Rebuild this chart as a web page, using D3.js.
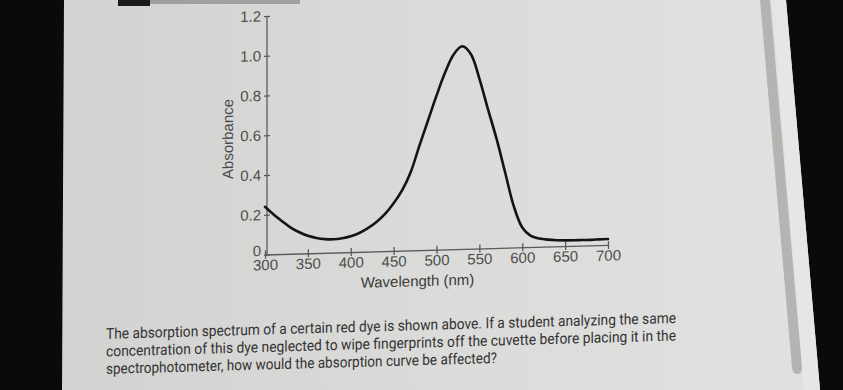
<!DOCTYPE html>
<html>
<head>
<meta charset="utf-8">
<script src="https://cdn.jsdelivr.net/npm/d3@7"></script>
<style>
  html, body { margin: 0; padding: 0; background: #0a0a0a; }
  svg { display: block; }
</style>
</head>
<body>
<svg id="chart" width="843" height="390"></svg>
<script>
// ---- data ----
const wavelengths = [300,310,320,330,340,350,360,370,380,390,400,410,420,430,440,450,460,470,480,490,
                     500,510,520,530,540,550,560,570,580,590,600,610,620,630,640,650,660,670,680,690,700];
const absorbance  = [0.24,0.20,0.165,0.132,0.107,0.088,0.076,0.069,0.067,0.071,0.080,0.095,0.118,0.148,0.187,0.240,0.305,0.395,0.525,0.650,
                     0.775,0.890,0.980,1.020,0.980,0.855,0.700,0.550,0.380,0.210,0.100,0.056,0.042,0.035,0.031,0.029,0.028,0.028,0.028,0.029,0.030];
const xTickValues = [300,350,400,450,500,550,600,650,700];
const yTickValues = [0,0.2,0.4,0.6,0.8,1.0,1.2];
const yTickLabels = ["0","0.2","0.4","0.6","0.8","1.0","1.2"];
const xTitle = "Wavelength (nm)";
const yTitle = "Absorbance";
const questionLines = [
  "The absorption spectrum of a certain red dye is shown above. If a student analyzing the same",
  "concentration of this dye neglected to wipe fingerprints off the cuvette before placing it in the",
  "spectrophotometer, how would the absorption curve be affected?"
];
const questionWidths = [570, 570, 391];

const svg = d3.select("#chart");

// ---- photographed screen background ----
const defs = svg.append("defs");
const grad = defs.append("linearGradient").attr("id","scr").attr("x1","0").attr("x2","1").attr("y1","0").attr("y2","0");
grad.append("stop").attr("offset","0").attr("stop-color","#d2d2d0");
grad.append("stop").attr("offset","0.5").attr("stop-color","#dbdbd9");
grad.append("stop").attr("offset","1").attr("stop-color","#e1e1df");

svg.append("rect").attr("width",843).attr("height",390).attr("fill","#0a0a0c");
svg.append("polygon").attr("points","64,0 786,0 820,390 62,390").attr("fill","url(#scr)");
// scrollbar track + thumb
svg.append("polygon").attr("points","772,0 786,0 820,390 804,390").attr("fill","#e6e6e4");
svg.append("path").attr("d","M760,0 L770,0 L802,368 Q802,374 797,374 Q793,374 792,368 Z").attr("fill","#b4b4b2");
// top strip
svg.append("rect").attr("x",150).attr("y",0).attr("width",150).attr("height",4).attr("fill","#a0a09e");
svg.append("rect").attr("x",118).attr("y",0).attr("width",32).attr("height",6).attr("fill","#1a1a1a");

// ---- chart (slightly skewed like the photo) ----
const ox = 265, oy = 254.5;
const g = svg.append("g")
  .attr("transform", `translate(${ox},${oy}) skewY(-1.6) translate(${-ox},${-oy})`);

const x = d3.scaleLinear().domain([300,700]).range([265,608]);
const y = d3.scaleLinear().domain([0,1.2]).range([254.5,16]);

const axisColor = "#5a5a5a";
const labelFont = "'Liberation Sans', Arial, sans-serif";

const xAxis = g.append("g").attr("transform",`translate(0,${y(0)})`)
  .call(d3.axisBottom(x).tickValues(xTickValues).tickSizeInner(4).tickSizeOuter(0).tickPadding(1).tickFormat(d3.format("d")));
xAxis.selectAll(".tick line").attr("y1",-4);

const yAxis = g.append("g").attr("transform",`translate(${x(300)+2},0)`)
  .call(d3.axisLeft(y).tickValues(yTickValues).tickSizeInner(3).tickSizeOuter(0).tickPadding(3)
        .tickFormat((d,i) => yTickLabels[i]));
yAxis.selectAll(".tick line").attr("x1",3);
yAxis.selectAll(".tick text").filter(d => d === 0).attr("y",-4);

[xAxis, yAxis].forEach(a => {
  a.select(".domain").attr("stroke",axisColor).attr("stroke-width",1.3);
  a.selectAll(".tick line").attr("stroke",axisColor).attr("stroke-width",1.3);
  a.selectAll(".tick text").attr("fill","#4e4e4e").style("font-family",labelFont).style("font-size","15px");
});
yAxis.select(".domain").attr("d",`M0,${y(0)}V${y(1.2)}`);

// curve
const line = d3.line().x((d,i) => x(wavelengths[i])).y(d => y(d)).curve(d3.curveCatmullRom.alpha(0.5));
g.append("path").datum(absorbance).attr("d",line)
  .attr("fill","none").attr("stroke","#141414").attr("stroke-width",2.6).attr("stroke-linecap","round");

// axis titles
g.append("text").attr("x",417.5).attr("y",290.5).attr("text-anchor","middle")
  .style("font-family",labelFont).style("font-size","15px").attr("fill","#3a3a3a").text(xTitle);
g.append("text").attr("transform","translate(233,138) rotate(-90)").attr("text-anchor","middle")
  .style("font-family",labelFont).style("font-size","15px").attr("fill","#4a4a4a").text(yTitle);

// question text
const qBase = [334.5, 352, 369.5];
questionLines.forEach((t,i) => {
  g.append("text").attr("x",106).attr("y",qBase[i])
    .attr("textLength",questionWidths[i]).attr("lengthAdjust","spacingAndGlyphs")
    .style("font-family","Roboto, 'Noto Sans', sans-serif").style("font-size","15px")
    .attr("fill","#333333").text(t);
});
</script>
</body>
</html>
